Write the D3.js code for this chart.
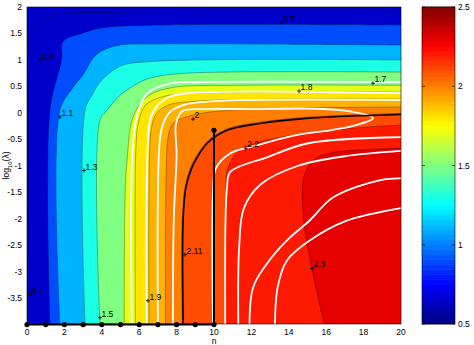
<!DOCTYPE html>
<html>
<head>
<meta charset="utf-8">
<script src="https://cdn.jsdelivr.net/npm/d3@7"></script>
<style>
  body { margin: 0; background: #fff; }
  svg text { font-family: "Liberation Sans", Arial, Helvetica, sans-serif; }
</style>
</head>
<body>
<svg id="chart" width="474" height="345"></svg>
<script>
// ---- data -------------------------------------------------------------
// Contour levels and, for each level, its level set as [n, log10(lambda)]
// points running from the bottom edge of the domain to its right edge.
const contourLevels = [0.7, 0.9, 1.1, 1.3, 1.5, 1.7, 1.8, 1.9, 2.0, 2.1, 2.2, 2.3];
// filled bands start at this level; everything below it takes the colour of the field minimum
const firstFilled = 0.9;
const fieldMin = 0.65;
const levelSets = [
  [[0.15,-4],[0.15,1.0],[0.3,1.55],[1.2,1.82],[5,1.9],[20,1.92]],
  [[1.23,-4],[1.23,0.05],[1.87,1.05],[1.87,1.31],[2.14,1.41],[2.83,1.49],[3.9,1.6],[7.1,1.66],[20,1.66]],
  [[1.76,-4],[1.76,0.05],[2.4,0.45],[3.0,0.72],[3.7,1.1],[4.8,1.27],[7.1,1.3],[20,1.28]],
  [[3.1,-4],[3.1,0.05],[3.5,0.35],[3.9,0.58],[4.97,0.88],[6.6,0.97],[20,1.0]],
  [[3.9,-4],[3.9,-0.14],[4.28,0.05],[4.97,0.33],[6.04,0.58],[6.74,0.67],[8.56,0.75],[20,0.77]],
  [[5.2,-4],[5.25,-1.5],[5.35,-0.9],[5.67,-0.08],[6.4,0.3],[7.65,0.47],[11.4,0.52],[20,0.52]],
  [[5.8,-4],[5.82,-0.7],[5.95,-0.2],[6.3,0.13],[7.2,0.3],[9,0.37],[20,0.39]],
  [[6.52,-4],[6.55,-0.8],[6.65,-0.3],[6.9,-0.02],[7.5,0.14],[9,0.22],[20,0.26]],
  [[7.4,-4],[7.45,-1],[7.55,-0.45],[7.8,-0.2],[8.5,-0.08],[9.5,0.0],[12,0.07],[20,0.11]],
  [[8.3,-4],[8.3,-2],[8.45,-1.4],[8.75,-1.03],[9.05,-0.82],[9.63,-0.54],[10.65,-0.31],[12.4,-0.18],[15.1,-0.08],[20,-0.01]],
  [[10.6,-4],[10.65,-1.6],[10.7,-1.1],[11.2,-0.76],[11.9,-0.61],[15.1,-0.37],[20,-0.23]],
  [[15.9,-4],[15.2,-2.88],[14.8,-2.03],[14.8,-1.22],[15.3,-0.9],[16.2,-0.76],[20,-0.67]]
];

// Threshold contour drawn in heavy black
const thresholdLevel = 2.11;
const thresholdSet = [[8.35,-4],[8.35,-2],[8.5,-1.4],[8.8,-1.05],[9.1,-0.84],[9.68,-0.56],[10.7,-0.33],[12.46,-0.2],[15.1,-0.1],[20,-0.03]];

// Unlabelled contours of the second quantity (white)
const whiteSets = [
  [[5.6,-4],[5.6,-1],[5.75,-0.3],[5.95,0.05],[6.45,0.37],[7.6,0.55],[9.4,0.58],[20,0.58]],
  [[6.4,-4],[6.45,-0.7],[6.6,-0.1],[7.0,0.15],[7.6,0.3],[8.6,0.37],[20,0.37]],
  [[7.0,-4],[7.05,-0.8],[7.2,-0.3],[7.6,0.0],[8.4,0.15],[10,0.22],[20,0.24]],
  [[7.8,-4],[7.85,-2],[8.0,-0.8],[7.97,-0.2],[8.3,0.03],[9.5,0.07],[12,0.07],[15,0.08],[17,0.04],[18.5,-0.1],[17.6,-0.23],[16.2,-0.33],[14.4,-0.42],[11.9,-0.65],[10.9,-0.76],[10.1,-1.05],[9.95,-1.5],[9.95,-4]],
  [[10.6,-4],[10.62,-2],[10.7,-1.4],[10.86,-1.12],[12.83,-0.84],[15.1,-0.57],[20,-0.46]],
  [[11.3,-4],[11.35,-2.5],[11.6,-1.8],[12.5,-1.35],[14.5,-1.0],[17,-0.82],[20,-0.72]],
  [[11.9,-4],[12.09,-3.3],[12.83,-2.85],[13.9,-2.41],[15.13,-2.03],[16.36,-1.6],[18.9,-1.27],[20,-1.24]],
  [[13.26,-4],[13.4,-3.3],[13.9,-2.79],[15.13,-2.41],[17,-2.05],[20,-1.8]]
];

// Search path: n = 0..10 along the lowest lambda, then up to the final point
const pathN = [0, 1, 2, 3, 4, 5, 6, 7, 8, 9, 10, 10];
const pathL = [-4, -4, -4, -4, -4, -4, -4, -4, -4, -4, -4, -0.33];

// Contour labels: value and the [n, log10(lambda)] point they mark
const labelValues = [0.7, 0.9, 0.7, 1.1, 1.3, 1.5, 1.9, 2.11, 2, 2.2, 2.3, 1.8, 1.7];
const labelN = [13.6, 0.7, 0.16, 1.76, 3.05, 3.9, 6.47, 8.45, 8.88, 11.7, 15.24, 14.55, 18.5];
const labelL = [1.7, 1.0, -3.43, -0.08, -1.09, -3.87, -3.55, -2.68, -0.12, -0.67, -2.94, 0.41, 0.56];

const xTicks = [0, 2, 4, 6, 8, 10, 12, 14, 16, 18, 20];
const yTicks = [2, 1.5, 1, 0.5, 0, -0.5, -1, -1.5, -2, -2.5, -3, -3.5];
const colorTicks = [0.5, 1, 1.5, 2, 2.5];
const colorRange = [0.5, 2.5];

// ---- layout -----------------------------------------------------------
const svg = d3.select("#chart");
const plot = { left: 27, right: 401, top: 7, bottom: 324 };
const cbar = { left: 422, right: 455 };

const x = d3.scaleLinear().domain([0, 20]).range([plot.left, plot.right]);
const y = d3.scaleLinear().domain([-3.99, 2]).range([plot.bottom, plot.top]);

// jet colour map over the colour axis
const jetStops = [0, 1/8, 3/8, 5/8, 7/8, 1];
const jet = d3.scaleLinear()
  .domain(jetStops.map(t => colorRange[0] + t * (colorRange[1] - colorRange[0])))
  .range(["#000080", "#0000ff", "#00ffff", "#ffff00", "#ff0000", "#800000"])
  .clamp(true);

svg.append("defs").append("clipPath").attr("id", "plotClip")
  .append("rect")
  .attr("x", plot.left).attr("y", plot.top)
  .attr("width", plot.right - plot.left).attr("height", plot.bottom - plot.top);

const g = svg.append("g").attr("clip-path", "url(#plotClip)");

const smooth = d3.line().x(d => x(d[0])).y(d => y(d[1])).curve(d3.curveCatmullRom.alpha(0.5));

// lowest band
g.append("rect")
  .attr("x", plot.left).attr("y", plot.top)
  .attr("width", plot.right - plot.left).attr("height", plot.bottom - plot.top)
  .attr("fill", jet(fieldMin));

// each filled level covers everything on its lower-right side
contourLevels.forEach((lev, i) => {
  if (lev < firstFilled) return;
  const pts = levelSets[i];
  g.append("path")
    .attr("d", smooth(pts) + `L${x(20) + 5},${y(pts[pts.length - 1][1])}L${x(20) + 5},${y(-4) + 5}L${x(pts[0][0])},${y(-4) + 5}Z`)
    .attr("fill", jet(lev))
    .attr("stroke", "none");
});
contourLevels.forEach((lev, i) => {
  g.append("path")
    .attr("d", smooth(levelSets[i]))
    .attr("fill", "none")
    .attr("stroke", "#000")
    .attr("stroke-opacity", 0.5)
    .attr("stroke-width", 0.6);
});

// white contours
whiteSets.forEach(pts => {
  g.append("path")
    .attr("d", smooth(pts))
    .attr("fill", "none")
    .attr("stroke", "#fff")
    .attr("stroke-width", 1.8)
    .attr("stroke-linejoin", "round");
});

// threshold contour
g.append("path")
  .attr("d", smooth(thresholdSet))
  .attr("fill", "none")
  .attr("stroke", "#000")
  .attr("stroke-width", 1.6);

// plot frame
svg.append("rect")
  .attr("x", plot.left).attr("y", plot.top)
  .attr("width", plot.right - plot.left).attr("height", plot.bottom - plot.top)
  .attr("fill", "none").attr("stroke", "#000").attr("stroke-width", 0.6);

// search path
const pathPts = pathN.map((n, i) => [n, pathL[i]]);
svg.append("path")
  .attr("d", d3.line().x(d => x(d[0])).y(d => y(d[1]))(pathPts))
  .attr("fill", "none").attr("stroke", "#000").attr("stroke-width", 2);
svg.selectAll("circle.step").data(pathPts).join("circle")
  .attr("class", "step")
  .attr("cx", d => x(d[0])).attr("cy", d => y(d[1])).attr("r", 2.6)
  .attr("fill", "#000");

// contour labels with '+' markers
labelValues.forEach((v, i) => {
  const px = x(labelN[i]), py = y(labelL[i]);
  svg.append("path")
    .attr("d", `M${px - 2},${py}H${px + 2}M${px},${py - 2}V${py + 2}`)
    .attr("stroke", "#000").attr("stroke-width", 0.8);
  svg.append("text")
    .attr("x", px + 1.5).attr("y", py - 1)
    .attr("font-size", 8.5).attr("fill", "#000")
    .text(String(v));
});

// axis tick labels
svg.selectAll("text.xt").data(xTicks).join("text")
  .attr("class", "xt")
  .attr("x", d => x(d)).attr("y", 335)
  .attr("text-anchor", "middle").attr("font-size", 8.5)
  .text(d => d);
svg.selectAll("text.yt").data(yTicks).join("text")
  .attr("class", "yt")
  .attr("x", 22).attr("y", d => y(d) + 3)
  .attr("text-anchor", "end").attr("font-size", 8.5)
  .text(d => d);

svg.append("text")
  .attr("x", x(10)).attr("y", 344)
  .attr("text-anchor", "middle").attr("font-size", 8.5)
  .text("n");

const yl = svg.append("text")
  .attr("transform", `translate(9,${(plot.top + plot.bottom) / 2}) rotate(-90)`)
  .attr("text-anchor", "middle").attr("font-size", 8.5);
yl.append("tspan").text("log");
yl.append("tspan").attr("font-size", 6).attr("dy", 2.5).text("10");
yl.append("tspan").attr("dy", -2.5).text("(λ)");

// ---- colour bar ---------------------------------------------------------
const cy = d3.scaleLinear().domain(colorRange).range([plot.bottom, plot.top]);
const nSteps = 64;
const steps = d3.range(nSteps).map(i => colorRange[0] + (i + 0.5) * (colorRange[1] - colorRange[0]) / nSteps);
const stepH = (plot.bottom - plot.top) / nSteps;
svg.selectAll("rect.cb").data(steps).join("rect")
  .attr("class", "cb")
  .attr("x", cbar.left).attr("width", cbar.right - cbar.left)
  .attr("y", d => cy(d) - stepH / 2 - 0.3).attr("height", stepH + 0.6)
  .attr("fill", d => jet(d));
svg.append("rect")
  .attr("x", cbar.left).attr("y", plot.top)
  .attr("width", cbar.right - cbar.left).attr("height", plot.bottom - plot.top)
  .attr("fill", "none").attr("stroke", "#000").attr("stroke-width", 0.6);
colorTicks.forEach(t => {
  svg.append("path")
    .attr("d", `M${cbar.left},${cy(t)}h3M${cbar.right},${cy(t)}h-3`)
    .attr("stroke", "#000").attr("stroke-width", 0.6);
});
svg.selectAll("text.ct").data(colorTicks).join("text")
  .attr("class", "ct")
  .attr("x", cbar.right + 3).attr("y", d => cy(d) + 3)
  .attr("font-size", 8.5)
  .text(d => d);
</script>
</body>
</html>
